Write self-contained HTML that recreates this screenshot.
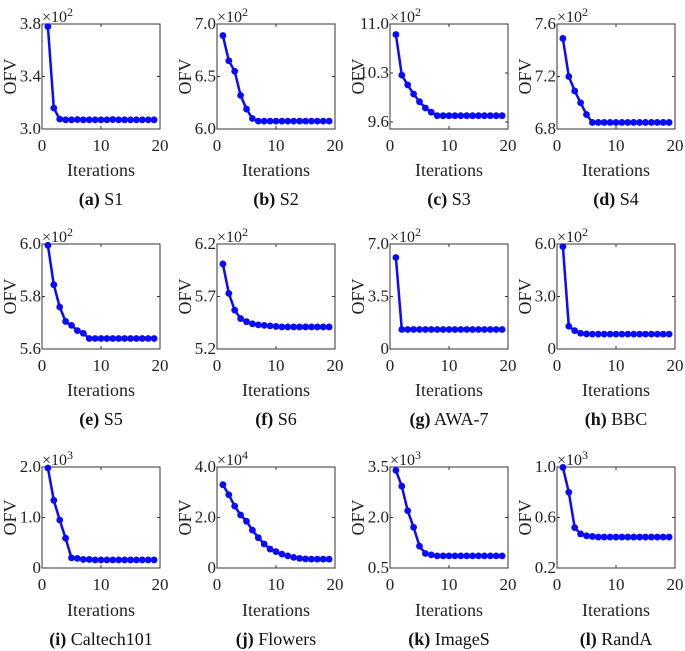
<!DOCTYPE html>
<html><head><meta charset="utf-8"><style>
html,body{margin:0;padding:0;background:#fff;}
svg{display:block;font-family:"Liberation Serif",serif;}
</style></head><body>
<svg id="fig" width="685" height="651" viewBox="0 0 685 651"></svg>
<script>
const iterations = [1,2,3,4,5,6,7,8,9,10,11,12,13,14,15,16,17,18,19];
const panelLetters = ["a","b","c","d","e","f","g","h","i","j","k","l"];
const panelNames = ["S1","S2","S3","S4","S5","S6","AWA-7","BBC","Caltech101","Flowers","ImageS","RandA"];
const exponents = [2,2,2,2,2,2,2,2,3,4,3,3];
const yTicks = [
 ["3.0","3.4","3.8"],["6.0","6.5","7.0"],["9.6","10.3","11.0"],["6.8","7.2","7.6"],
 ["5.6","5.8","6.0"],["5.2","5.7","6.2"],["0","3.5","7.0"],["0","3.0","6.0"],
 ["0","1.0","2.0"],["0","2.0","4.0"],["0.5","2.0","3.5"],["0.2","0.6","1.0"]];
const yMin = [3.0,6.0,9.5,6.8,5.6,5.2,0,0,0,0,0.5,0.2];
const yMax = [3.8,7.0,11.0,7.6,6.0,6.2,7.0,6.0,2.0,4.0,3.5,1.0];
const sA = [3.78,3.16,3.075,3.07,3.07,3.072,3.07,3.07,3.07,3.07,3.07,3.072,3.07,3.07,3.07,3.07,3.07,3.07,3.07];
const sB = [6.89,6.65,6.55,6.32,6.19,6.10,6.075,6.075,6.075,6.075,6.075,6.075,6.075,6.075,6.075,6.075,6.075,6.075,6.075];
const sC = [10.85,10.27,10.13,10.0,9.89,9.8,9.74,9.69,9.69,9.69,9.69,9.69,9.69,9.69,9.69,9.69,9.69,9.69,9.69];
const sD = [7.49,7.2,7.09,7.0,6.91,6.85,6.85,6.85,6.85,6.85,6.85,6.85,6.85,6.85,6.85,6.85,6.85,6.85,6.85];
const sE = [5.995,5.845,5.76,5.705,5.69,5.67,5.66,5.64,5.64,5.64,5.64,5.64,5.64,5.64,5.64,5.64,5.64,5.64,5.64];
const sF = [6.01,5.73,5.57,5.49,5.46,5.44,5.43,5.425,5.42,5.415,5.41,5.41,5.41,5.41,5.41,5.41,5.41,5.41,5.41];
const sG = [6.1,1.3,1.3,1.3,1.3,1.3,1.3,1.3,1.3,1.3,1.3,1.3,1.3,1.3,1.3,1.3,1.3,1.3,1.3];
const sH = [5.85,1.3,1.05,0.9,0.86,0.85,0.85,0.85,0.85,0.85,0.85,0.85,0.85,0.85,0.85,0.85,0.85,0.85,0.85];
const sI = [1.98,1.34,0.95,0.59,0.2,0.19,0.17,0.17,0.16,0.16,0.16,0.16,0.16,0.16,0.16,0.16,0.16,0.16,0.16];
const sJ = [3.3,2.9,2.45,2.1,1.85,1.5,1.2,0.95,0.75,0.65,0.55,0.48,0.42,0.38,0.36,0.35,0.35,0.35,0.35];
const sK = [3.4,2.93,2.2,1.71,1.15,0.93,0.89,0.86,0.86,0.86,0.86,0.86,0.86,0.86,0.86,0.86,0.86,0.86,0.86];
const sL = [0.997,0.8,0.52,0.47,0.455,0.45,0.445,0.445,0.445,0.445,0.445,0.445,0.445,0.445,0.445,0.445,0.445,0.445,0.445];
const seriesList = [sA,sB,sC,sD,sE,sF,sG,sH,sI,sJ,sK,sL];
const xTickVals = [0,10,20];

const NS="http://www.w3.org/2000/svg";
const svg=document.getElementById('fig');
const colX=[42,217,390,557], W=118;
const rowTop=[24,244,467], rowH=[105,105,101];
const iterY=[170,390,610], capY=[205,425,645];
function mk(tag,attrs,parent){const e=document.createElementNS(NS,tag);for(const k in attrs)e.setAttribute(k,attrs[k]);(parent||svg).appendChild(e);return e;}

for(let p=0;p<12;p++){
  const r=Math.floor(p/4), c=p%4;
  const L=colX[c], T=rowTop[r], H=rowH[r];
  const g=mk('g',{});
  
  
  const xs=v=>L+v/20*W;
  const ys=v=>T+H-(v-yMin[p])/(yMax[p]-yMin[p])*H;
  const box=mk('rect',{x:L,y:T,width:W,height:H,fill:'none',stroke:'#333','stroke-width':1},g);
  
  
  xTickVals.forEach(v=>{
    const X=xs(v);
    mk('line',{x1:X,y1:T+H,x2:X,y2:T+H-3,stroke:'#333'},g);
    mk('line',{x1:X,y1:T,x2:X,y2:T+3,stroke:'#333'},g);
    const t=mk('text',{x:X,y:T+H+22,'font-size':17,'text-anchor':'middle',fill:'#222'},g);
    t.textContent=v;
    
    
  });
  yTicks[p].forEach(s=>{
    const Y=ys(parseFloat(s));
    mk('line',{x1:L,y1:Y,x2:L+3,y2:Y,stroke:'#333'},g);
    mk('line',{x1:L+W,y1:Y,x2:L+W-3,y2:Y,stroke:'#333'},g);
    const t=mk('text',{x:L-1,y:Y+5,'font-size':17,'text-anchor':'end',fill:'#222'},g);
    t.textContent=s;
    
    
  });
  const ex=mk('text',{x:L,y:T-2,'font-size':16,fill:'#222'},g);
  ex.innerHTML='×10<tspan dy="-6" font-size="12">'+exponents[p]+'</tspan>';
  
  
  const yl=mk('text',{x:0,y:0,'font-size':18,'text-anchor':'middle',fill:'#222',transform:`translate(${L-26},${T+H/2}) rotate(-90)`},g);
  yl.textContent='OFV';
  
  
  const xl=mk('text',{x:L+W/2,y:iterY[r]+6,'font-size':18,'text-anchor':'middle',fill:'#222'},g);
  xl.textContent='Iterations';
  
  
  const cap=mk('text',{x:L+W/2,y:capY[r],'font-size':18,'text-anchor':'middle',fill:'#111'},g);
  cap.innerHTML='<tspan font-weight="bold">('+panelLetters[p]+')</tspan>  '+panelNames[p];
  cap.setAttribute('xml:space','preserve');
  
  
  const d=seriesList[p].map((v,i)=>(i?'L':'M')+xs(iterations[i]).toFixed(1)+' '+ys(v).toFixed(1)).join(' ');
  const line=mk('path',{d:d,fill:'none',stroke:'#0a0aff','stroke-width':2.5},g);
  
  
  seriesList[p].forEach((v,i)=>{
    const m=mk('circle',{cx:xs(iterations[i]),cy:ys(v),r:3.4,fill:'#0a0aff'},g);
    
    
  });
}
</script>
</body></html>
